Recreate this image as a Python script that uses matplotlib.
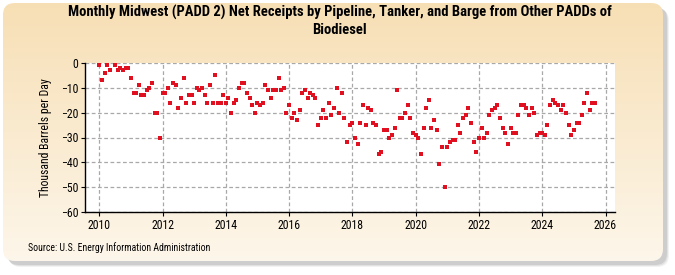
import numpy as np
import matplotlib
matplotlib.use("Agg")
import matplotlib.pyplot as plt
from matplotlib.patches import FancyBboxPatch
from matplotlib import font_manager
from matplotlib.font_manager import FontProperties

nan = np.nan
title = "Monthly Midwest (PADD 2) Net Receipts by Pipeline, Tanker, and Barge from Other PADDs of\nBiodiesel"
ylabel = "Thousand Barrels per Day"
source = "Source: U.S. Energy Information Administration"
start_year = 2010
v2010 = [-1, -7, -4, -1, -3, nan, -1, -3, -2, -3, -2, -2]
v2011 = [-6, -12, -12, -9, -13, -13, -11, -10, -8, -20, -20, -30]
v2012 = [-12, -12, -10, -16, -8, -9, -18, -14, -6, -16, -13, -13]
v2013 = [-16, -10, -11, -10, -13, -16, -9, -16, -5, -16, -16, -13]
v2014 = [-16, -14, -20, -16, -15, -10, -8, -8, -12, -14, -17, -20]
v2015 = [-16, -17, -16, -9, -11, -14, -11, -11, -6, -11, -10, -20]
v2016 = [-17, -22, -20, -23, -19, -12, -11, -14, -12, -13, -14, -25]
v2017 = [-22, -19, -22, -16, -21, -18, -10, -20, -12, -22, -32, -25]
v2018 = [-24, -30, -32.5, -24, -17, -25, -18, -19, -24, -25, -36.5, -35.7]
v2019 = [-27, -27, -30, -29, -26, -11, -22, -22, -20, -17, -22, -28]
v2020 = [-29, -30, -36.5, -26, -18, -15, -26, -23, -27, -40.5, -34, -50]
v2021 = [-34, -32, -31, -31, -25, -28, -22, -21, -18, -24, -32, -36]
v2022 = [-30, -26, -30, -28, -21, -19, -18, -17, -22, -26, -28, -32.5]
v2023 = [-26, -28, -28, -21, -17, -17, -18, -21, -18, -20, -29, -28]
v2024 = [-28, -29, -25, -17, -15, -16, -17, -19, -17, -20, -25, -29]
v2025 = [-27, -24, -24, -21, -16, -12, -19, -16, -16]
xticks = [2010, 2012, 2014, 2016, 2018, 2020, 2022, 2024, 2026]
yticks = [0, -10, -20, -30, -40, -50, -60]

values = np.array(v2010 + v2011 + v2012 + v2013 + v2014 + v2015 + v2016 + v2017 +
                  v2018 + v2019 + v2020 + v2021 + v2022 + v2023 + v2024 + v2025, dtype=float)
dates = start_year + np.arange(len(values)) / 12.0

# look for a condensed / narrow font
def find_font(bold):
    cands = []
    for f in font_manager.fontManager.ttflist:
        fn = f.fname.lower()
        if ('narrow' in fn or 'condensed' in fn) and 'italic' not in fn and 'oblique' not in fn:
            isb = ('bold' in fn) and ('semibold' not in fn) and ('extrabold' not in fn)
            if isb == bold:
                cands.append(f.fname)
    pref = ['liberationsansnarrow', 'arialn', 'robotocondensed', 'opensans_condensed',
            'opensanscondensed', 'dejavusanscondensed', 'notosans-condensed', 'notosanscondensed']
    for p in pref:
        for c in cands:
            if p in c.lower().replace('-', '').replace('_', '') or p in c.lower():
                return c
    return cands[0] if cands else None

fb = find_font(True)
fr = find_font(False)
title_fp = FontProperties(fname=fb) if fb else FontProperties(family='DejaVu Sans', weight='bold')
small_fp = FontProperties(fname=fr) if fr else FontProperties(family='DejaVu Sans')

W, H = 675, 275
fig = plt.figure(figsize=(W / 100, H / 100), dpi=100, facecolor='white')

# background panel with shadow and gradient
bg = fig.add_axes([0, 0, 1, 1], zorder=-10)
bg.set_xlim(0, W); bg.set_ylim(H, 0); bg.axis('off')
for off, a in [(6, 0.10), (5, 0.15), (4, 0.2)]:
    sh = FancyBboxPatch((3 + off, 3 + off), 660, 258, boxstyle="round,pad=0,rounding_size=12",
                        fc='#808080', ec='none', alpha=a)
    bg.add_patch(sh)
panel = FancyBboxPatch((3, 3), 660, 258, boxstyle="round,pad=0,rounding_size=12",
                       fc='none', ec='none')
bg.add_patch(panel)
grad = np.linspace(0, 1, 256)[:, None]
c1 = np.array([0xF7, 0xDF, 0xB5]) / 255
c2 = np.array([0xFD, 0xF6, 0xEA]) / 255
img = c1[None, None, :] * (1 - grad[:, :, None]) + c2[None, None, :] * grad[:, :, None]
im = bg.imshow(img, extent=(3, 663, 261, 3), aspect='auto', zorder=1)
im.set_clip_path(panel)

ax = fig.add_axes([85 / W, 1 - 212 / H, (615 - 85) / W, (212 - 63) / H])
ax.set_facecolor('white')
ax.plot(dates, values, linestyle='none', marker='s', markersize=3.2,
        color='#E01020', markeredgewidth=0)
ax.set_xlim(2009.55, 2026.3)
ax.set_ylim(-60, 0)
ax.set_xticks(xticks)
ax.set_yticks(yticks)
ax.grid(True, color='#A8A8A8', linestyle=(0, (3, 2)), linewidth=0.9)
ax.set_axisbelow(True)
for s in ['top', 'right']:
    ax.spines[s].set_visible(False)
ax.spines['left'].set_linewidth(1.0)
ax.spines['bottom'].set_linewidth(1.0)
ax.tick_params(length=3, colors='black', pad=2)
for lab in ax.get_xticklabels() + ax.get_yticklabels():
    lab.set_fontproperties(small_fp)
    lab.set_fontsize(8.5 if fr else 8)
ax.set_ylabel(ylabel, fontproperties=small_fp, fontsize=8.5 if fr else 8, labelpad=6)

t = fig.text(0.503, 1 - 21 / H, title, ha='center', va='center', fontproperties=title_fp,
             fontsize=10.5, linespacing=1.3)
src = fig.text(28 / W, 1 - 248 / H, source, ha='left', va='center', fontproperties=small_fp,
               fontsize=7)

# fit title width to the reference (~620 px for first line)
fig.canvas.draw()
r = fig.canvas.get_renderer()
bb = t.get_window_extent(r)
if bb.width > 622:
    t.set_fontsize(10.5 * 622 / bb.width)
bb2 = src.get_window_extent(r)
if bb2.width > 205:
    src.set_fontsize(7 * 205 / bb2.width)

fig.savefig('out.png', dpi=100, facecolor='white')
